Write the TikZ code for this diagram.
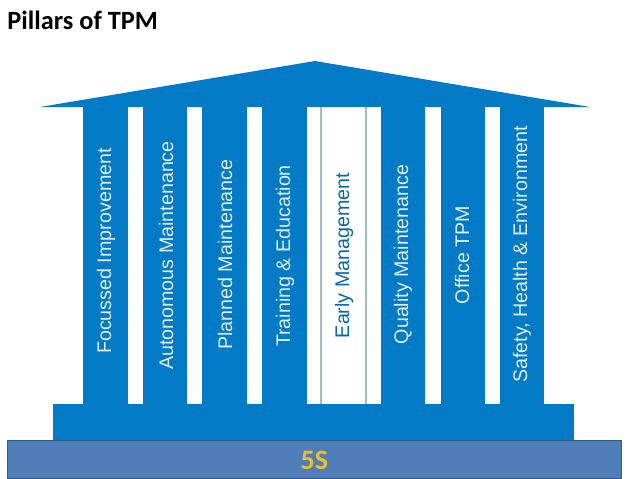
\documentclass[tikz,border=0pt]{standalone}
\usepackage{fontspec}
\setmainfont{Liberation Sans}
\newfontfamily\titlefont{Carlito}
\definecolor{pillarblue}{RGB}{3,122,197}
\definecolor{groundblue}{RGB}{79,125,183}
\definecolor{groundedge}{RGB}{55,90,140}
\definecolor{fivegold}{RGB}{240,190,40}
\definecolor{earlyline}{RGB}{165,185,205}
\def\pillarscheme{\fill[pillarblue]}
\tikzset{pillarlabel/.style={rotate=90,text=white!88!pillarblue,font=\fontsize{11.2}{13}\selectfont,inner sep=0pt},
  earlylabel/.style={rotate=90,text=pillarblue!85!black,font=\fontsize{11.2}{13}\selectfont,inner sep=0pt}}

\begin{document}
\begin{tikzpicture}[x=0.02cm,y=-0.02cm]
\useasboundingbox (0,0) rectangle (638,478);
\pillarscheme (40,107) -- (315,61) -- (590,107) -- cycle;
\pillarscheme (83,106) rectangle (544,405);
\pillarscheme (53,404) rectangle (574,440);
\fill[white] (128,107) rectangle (143,404);
\fill[white] (187,107) rectangle (202,404);
\fill[white] (247,107) rectangle (262,404);
\fill[white] (307,107) rectangle (381,404);
\fill[white] (425,107) rectangle (441,404);
\fill[white] (485,107) rectangle (500,404);
\draw[earlyline,thick] (321,107) -- (321,404);
\draw[earlyline,thick] (366,107) -- (366,404);
\node (title) at (7,20) [anchor=west,inner sep=0pt] {\titlefont\bfseries\fontsize{15}{17}\selectfont Pillars of TPM};
\node (pillar1) at (106,251) [pillarlabel] {Focussed Improvement};
\node (pillar2) at (166,255.5) [pillarlabel] {Autonomous Maintenance};
\node (pillar3) at (225,254.5) [pillarlabel] {Planned Maintenance};
\node (pillar4) at (285,256) [pillarlabel] {Training \& Education};
\node (pillar5) at (344,255.5) [earlylabel] {Early Management};
\node (pillar6) at (403,254.5) [pillarlabel] {Quality Maintenance};
\node (pillar7) at (462,255) [pillarlabel] {Office TPM};
\node (pillar8) at (522,254.5) [pillarlabel] {Safety, Health \& Environment};
\draw[fill=groundblue,draw=groundedge] (7,440) rectangle (621,478);
\node (ground) at (314.5,460) {\titlefont\bfseries\fontsize{16}{18}\selectfont\color{fivegold} 5S};
\end{tikzpicture}
\end{document}
